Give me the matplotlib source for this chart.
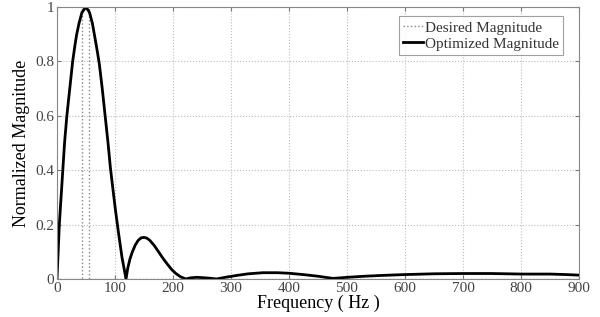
"""
Desired vs optimized filter magnitude response
"""
import numpy as np
import matplotlib
matplotlib.use("Agg")
import matplotlib.pyplot as plt

# desired (ideal band) magnitude
desired_freq = [0, 43, 43, 56, 56, 900]
desired_mag = [0, 0, 1, 1, 0, 0]

# optimized magnitude
opt_freq = [0, 2, 4, 7, 10, 13, 17, 22, 27, 31, 34, 38, 43, 50, 56, 61, 66,
            70, 73, 78, 83, 88, 92, 97, 101, 106, 112, 119, 122, 126, 130, 135,
            140, 145, 150, 155, 160, 168, 175, 183, 190, 198, 205, 213, 222,
            230, 241, 250, 262, 275, 290, 310, 330, 355, 380, 400, 425, 450,
            476, 500, 530, 560, 598, 650, 700, 750, 800, 850, 880, 900]
opt_mag = [0.0, 0.1, 0.2, 0.3, 0.4, 0.5, 0.6, 0.7, 0.8, 0.86, 0.9, 0.94,
           0.98, 1.0, 0.98, 0.94, 0.88, 0.83, 0.79, 0.7, 0.6, 0.5, 0.41,
           0.32, 0.25, 0.17, 0.08, 0.0, 0.04, 0.075, 0.1, 0.125, 0.142, 0.151,
           0.153, 0.15, 0.142, 0.122, 0.1, 0.075, 0.055, 0.034, 0.02, 0.008,
           0.0, 0.004, 0.006, 0.005, 0.003, 0.0, 0.006, 0.013, 0.019, 0.023,
           0.023, 0.021, 0.016, 0.01, 0.002, 0.006, 0.01, 0.013, 0.016, 0.019,
           0.02, 0.02, 0.018, 0.018, 0.016, 0.014]

xticks = list(range(0, 901, 100))
yticks = [0, 0.2, 0.4, 0.6, 0.8, 1]
ytick_labels = ["0", "0.2", "0.4", "0.6", "0.8", "1"]

plt.rcParams["font.family"] = ["Liberation Serif", "DejaVu Serif"]

fig = plt.figure(figsize=(6.0, 3.17), dpi=100)
ax = fig.add_axes([0.095, 0.12, 0.87, 0.858])

ax.plot(desired_freq, desired_mag, color="#888888", linestyle=":", linewidth=1.0,
        label="Desired Magnitude")
ax.plot(opt_freq, opt_mag, color="black", linewidth=2.0,
        label="Optimized Magnitude")

ax.set_xlim(0, 900)
ax.set_ylim(0, 1)
ax.set_xticks(xticks)
ax.set_yticks(yticks)
ax.set_yticklabels(ytick_labels)
ax.tick_params(direction="in", length=3, top=True, right=True,
               labelsize=11, labelcolor="#444444", color="#777777", pad=2)
for s in ax.spines.values():
    s.set_color("#888888")
    s.set_linewidth(0.8)
ax.grid(True, color="#bbbbbb", linestyle=":", linewidth=0.8)

ax.set_xlabel("Frequency ( Hz )", fontsize=13, labelpad=0)
ax.set_ylabel("Normalized Magnitude", fontsize=13, labelpad=4)

leg = ax.legend(loc="upper right", bbox_to_anchor=(0.97, 0.965), fontsize=11,
                frameon=True, fancybox=False, handlelength=1.3, handletextpad=0.1,
                borderpad=0.3, labelspacing=0.15, borderaxespad=0)
leg.get_frame().set_edgecolor("#888888")
leg.get_frame().set_linewidth(0.8)
for t in leg.get_texts():
    t.set_color("#333333")

fig.savefig("out.png", dpi=100)
